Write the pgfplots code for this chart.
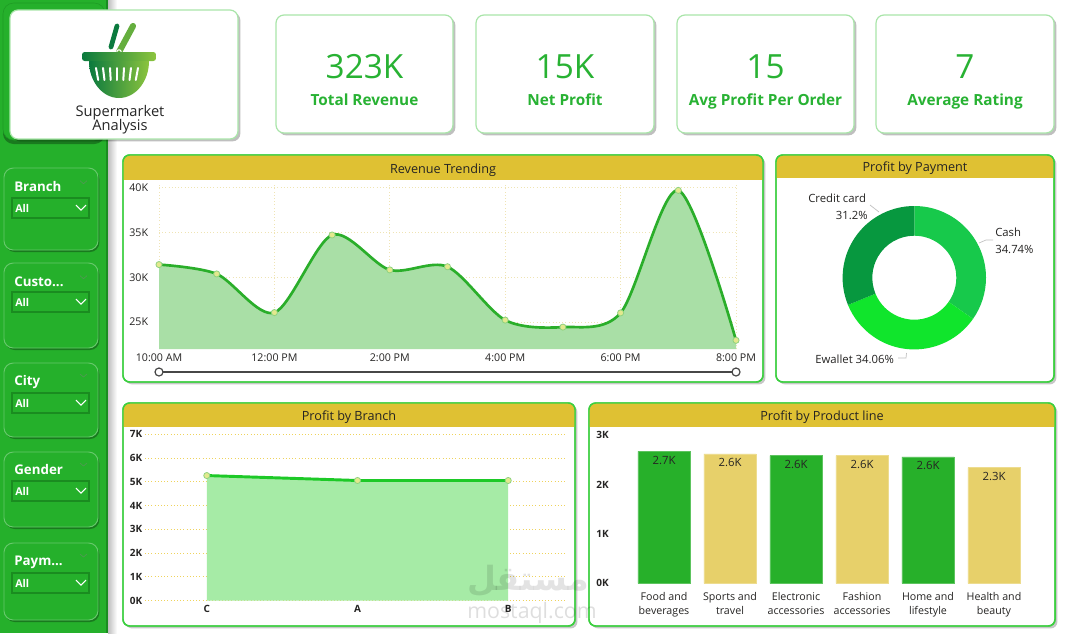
\documentclass[border=0pt]{standalone}
\usepackage{pgfplots}
\pgfplotsset{compat=1.18}
\usepackage{pgfplotstable}
\usepackage{fontspec}
\setmainfont{Open Sans}
\newfontfamily\arabicfont[Script=Arabic]{DejaVu Sans}
\TeXXeTstate=1
\usetikzlibrary{shadows}
\definecolor{side}{HTML}{25B02B}
\definecolor{sidedark}{HTML}{1A8C20}
\definecolor{kgreen}{HTML}{28B233}
\definecolor{hdr}{HTML}{DFC133}
\definecolor{pborder}{HTML}{3CCF40}
\definecolor{kborder}{HTML}{A9E5A9}
\definecolor{txt}{HTML}{252423}
\definecolor{revfill}{HTML}{A9DFA6}
\definecolor{revline}{HTML}{2AAE2A}
\definecolor{brfill}{HTML}{A6EBA6}
\definecolor{brline}{HTML}{1DC927}
\definecolor{mk}{HTML}{E3E98E}
\definecolor{mkedge}{HTML}{8FD27F}
\definecolor{revgrid}{HTML}{EFE4B4}
\definecolor{brgrid}{HTML}{EFD35C}
\definecolor{bgreen}{HTML}{27B02A}
\definecolor{byellow}{HTML}{E7D06A}
\definecolor{cash}{HTML}{17C94B}
\definecolor{ewal}{HTML}{10E52C}
\definecolor{ccard}{HTML}{07983F}
\definecolor{logoA}{HTML}{0B7A3E}
\definecolor{logoB}{HTML}{8CC43E}

\pgfplotstableread{
h rev
10 31421.48
11 30377.33
12 26065.88
13 34723.23
14 30828.39
15 31179.51
16 25226.32
17 24445.22
18 26030.34
19 39699.51
20 22969.53
}\revtable
\pgfplotstableread{
x profit
0 5265.18
1 5057.16
2 5057.03
}\branchtable
\def\pcash{34.74}
\def\pewal{34.06}
\def\pcard{31.20}

\tikzset{
  card/.style={rounded corners=6pt, fill=white, draw=kborder, line width=0.9pt,
    drop shadow={shadow xshift=1.8pt, shadow yshift=-1.8pt, opacity=0.25, fill=black}},
  panelbox/.style={rounded corners=5pt, fill=white, draw=pborder, line width=1.1pt,
    drop shadow={shadow xshift=1.8pt, shadow yshift=-1.8pt, opacity=0.22, fill=black}},
}
\newcommand\panel[5]{% x1 y1 x2 y2 yheader
  \path[panelbox] (#1,#2) rectangle (#3,#4);
  \begin{scope}
    \clip[rounded corners=5pt] (#1,#2) rectangle (#3,#4);
    \fill[hdr] (#1,#2) rectangle (#3,#5);
  \end{scope}
  \draw[pborder, line width=1.1pt, rounded corners=5pt] (#1,#2) rectangle (#3,#4);
}
\newcommand\filt[5]{% top bottom titlebaseline boxtop title
  \path[rounded corners=7pt, fill=side, draw=white!30!side, line width=0.7pt,
    drop shadow={shadow xshift=1pt, shadow yshift=-1.5pt, opacity=0.3, fill=black}] (4,#1) rectangle (98,#2);
  \node[anchor=base west, inner sep=0pt, text=white, font=\bfseries\fontsize{10}{12}\selectfont] at (14,#3) {#5};
  \draw[sidedark, line width=0.8pt] (12,#4) rectangle (89,{#4+20});
  \node[anchor=base west, inner sep=0pt, text=white, font=\bfseries\fontsize{8}{9}\selectfont] at (15,{#4+14}) {All};
  \draw[white, line width=0.8pt] (76,{#4+7}) -- (81,{#4+12}) -- (86,{#4+7});
  \draw[side!55!gray, line width=0.5pt] (80,{#3-11}) -- (83.5,{#3-8}) -- (87,{#3-11});
}

\begin{document}
\begin{tikzpicture}
\begin{scope}[x=0.75pt,y=-0.75pt]
\fill[white] (0,0) rectangle (1066,633);
% sidebar
\shade[left color=black!25, right color=white] (108,0) rectangle (117,633);
\fill[side] (0,0) rectangle (108,633);
\draw[sidedark, line width=1.4pt] (107.3,0) -- (107.3,633);
\path[fill=side, draw=sidedark!60!side, rounded corners=8pt,
  drop shadow={shadow xshift=0pt, shadow yshift=-3pt, opacity=0.3, fill=black}] (3,3) rectangle (105,140);

% logo card
\path[card] (10,10) rectangle (238,139);
\draw[logoA, line width=3.6pt, line cap=round] (111,47) -- (117,26);
\draw[logoB!70!logoA, line width=4.6pt, line cap=round] (119,52) -- (133,26);
\draw[white, line width=0.8pt] (119,52) circle[radius=2.2];
\shade[left color=logoA, right color=logoB, rounded corners=2pt] (82,52) rectangle (156,61);
\shade[left color=logoA, right color=logoB] (89,61) -- (149,61) arc[start angle=0, end angle=180, x radius=30, y radius=37] -- cycle;
\foreach \x/\d in {96/2.2,103/1.5,110/0.7,117/0,124/-0.7,131/-1.5,138/-2.2}
  \draw[white, line width=1.5pt, line cap=round] (\x,68) -- ({\x+\d},80);
\node[anchor=base, inner sep=0pt, text=black!85, font=\fontsize{11}{12}\selectfont] at (120,116) {Supermarket};
\node[anchor=base, inner sep=0pt, text=black!85, font=\fontsize{11}{12}\selectfont] at (120,130) {Analysis};

% KPI cards
\foreach \xa/\xb/\num/\lab in {276/453/323K/Total Revenue, 476/654/15K/Net Profit, 677/854/15/Avg Profit Per Order, 876/1054/7/Average Rating}{
  \path[card] (\xa,15) rectangle (\xb,133);
  \node[anchor=base, inner sep=0pt, text=kgreen, font=\fontsize{25}{28}\selectfont] at ({(\xa+\xb)/2},78.5) {\num};
  \node[anchor=base, inner sep=0pt, text=kgreen, font=\bfseries\fontsize{11.5}{13}\selectfont] at ({(\xa+\xb)/2},105) {\lab};
}

% filters
\filt{168}{250}{191.7}{198}{Branch}
\filt{263}{348}{286.7}{292}{Custo...}
\filt{363}{437}{385}{393}{City}
\filt{452}{527}{474}{481}{Gender}
\filt{543}{620}{565}{573}{Paym...}

% panels
\panel{123}{155}{763}{382}{179.5}
\node[anchor=base, inner sep=0pt, text=txt, font=\fontsize{9.5}{11}\selectfont] at (443,173.3) {Revenue Trending};
\panel{776}{155}{1054}{382}{178}
\node[anchor=base, inner sep=0pt, text=txt, font=\fontsize{9.5}{11}\selectfont] at (915,171.7) {Profit by Payment};
\panel{123}{403}{575}{626}{427}
\node[anchor=base, inner sep=0pt, text=txt, font=\fontsize{9.5}{11}\selectfont] at (349,420) {Profit by Branch};
\panel{589}{403}{1055}{626}{427}
\node[anchor=base, inner sep=0pt, text=txt, font=\fontsize{9.5}{11}\selectfont] at (822,420) {Profit by Product line};

% slider
\draw[black!72, line width=1.4pt] (159,372) -- (736,372);
\draw[black!72, fill=white, line width=0.9pt] (159,372) circle[radius=4];
\draw[black!72, fill=white, line width=0.9pt] (736,372) circle[radius=4];

% donut labels
\draw[black!25, line width=0.5pt] (870,205) -- (879,212);
\draw[black!25, line width=0.5pt] (979,243) -- (986,240) -- (993,240);
\draw[black!25, line width=0.5pt] (898,358) -- (906,358) -- (906.5,353);
\node[anchor=base west, inner sep=0pt, text=txt, font=\fontsize{8.5}{10}\selectfont] at (808,202.7) {Credit card};
\node[anchor=base east, inner sep=0pt, text=txt, font=\fontsize{8.5}{10}\selectfont] at (868,219.3) {31.2\%};
\node[anchor=base west, inner sep=0pt, text=txt, font=\fontsize{8.5}{10}\selectfont] at (995,236.7) {Cash};
\node[anchor=base west, inner sep=0pt, text=txt, font=\fontsize{8.5}{10}\selectfont] at (995,253.3) {34.74\%};
\node[anchor=base west, inner sep=0pt, text=txt, font=\fontsize{8.5}{10}\selectfont] at (815,363.3) {Ewallet 34.06\%};
\end{scope}

% Revenue Trending
\begin{axis}[at={(119.25pt,-138.75pt)}, anchor=north west, scale only axis,
  width=432.75pt, height=123pt,
  xmin=10, xmax=20, ymin=22000, ymax=40300,
  axis line style={draw=none}, major tick length=0pt,
  xtick={10,12,14,16,18,20},
  xticklabels={10:00 AM,12:00 PM,2:00 PM,4:00 PM,6:00 PM,8:00 PM},
  ytick={25000,30000,35000,40000}, yticklabels={25K,30K,35K,40K},
  xmajorgrids, ymajorgrids,
  major grid style={draw=revgrid, dotted, line width=0.7pt},
  tick label style={font=\fontsize{8}{9}\selectfont, text=txt},
  yticklabel style={anchor=west, xshift=-25.8pt},
  scaled ticks=false,
]
\addplot[draw=none, fill=revfill, smooth, tension=0.5] table[x=h, y=rev]{\revtable} \closedcycle;
\addplot[revline, line width=2pt, smooth, tension=0.5, mark=*, mark size=2.3pt,
  mark options={fill=mk, draw=mkedge, line width=0.6pt, solid}] table[x=h, y=rev]{\revtable};
\end{axis}

% Profit by Payment (donut)
\pgfmathsetmacro\aA{90}
\pgfmathsetmacro\aB{90-3.6*\pcash}
\pgfmathsetmacro\aC{\aB-3.6*\pewal}
\pgfmathsetmacro\aD{\aC-3.6*\pcard}
\pgfmathsetmacro\ri{42/71.7}
\begin{axis}[at={(685.725pt,-208.275pt)}, anchor=center, scale only axis,
  width=107.55pt, height=107.55pt, xmin=-1, xmax=1, ymin=-1, ymax=1,
  hide axis, clip=false]
\fill[cash] (axis cs:{cos(\aA)},{sin(\aA)}) arc[start angle=\aA, end angle=\aB, radius=1]
  -- (axis cs:{\ri*cos(\aB)},{\ri*sin(\aB)}) arc[start angle=\aB, end angle=\aA, radius=\ri] -- cycle;
\fill[ewal] (axis cs:{cos(\aB)},{sin(\aB)}) arc[start angle=\aB, end angle=\aC, radius=1]
  -- (axis cs:{\ri*cos(\aC)},{\ri*sin(\aC)}) arc[start angle=\aC, end angle=\aB, radius=\ri] -- cycle;
\fill[ccard] (axis cs:{cos(\aC)},{sin(\aC)}) arc[start angle=\aC, end angle=\aD, radius=1]
  -- (axis cs:{\ri*cos(\aD)},{\ri*sin(\aD)}) arc[start angle=\aD, end angle=\aC, radius=\ri] -- cycle;
\end{axis}

% Profit by Branch
\begin{axis}[at={(108.75pt,-325.725pt)}, anchor=north west, scale only axis,
  width=316.5pt, height=124.8pt,
  xmin=-0.41, xmax=2.39, ymin=0, ymax=7000,
  axis line style={draw=none}, major tick length=0pt,
  xtick={0,1,2}, xticklabels={C,A,B},
  ytick={0,1000,2000,3000,4000,5000,6000,7000}, yticklabels={0K,1K,2K,3K,4K,5K,6K,7K},
  ymajorgrids, major grid style={draw=brgrid, dotted, line width=0.8pt},
  tick label style={font=\bfseries\fontsize{7.5}{9}\selectfont, text=txt},
  yticklabel style={xshift=1.5pt}, scaled ticks=false,
]
\addplot[draw=none, fill=brfill] table[x=x, y=profit]{\branchtable} \closedcycle;
\addplot[brline, line width=2.2pt, mark=*, mark size=2.3pt,
  mark options={fill=mk, draw=mkedge, line width=0.6pt, solid}] table[x=x, y=profit]{\branchtable};
\end{axis}

% Profit by Product line
\begin{axis}[at={(473.25pt,-326.475pt)}, anchor=north west, scale only axis,
  width=297pt, height=111pt,
  xmin=-0.5, xmax=5.5, ymin=0, ymax=3000, enlargelimits=false,
  ybar, bar width=0.79, bar shift=0pt,
  axis line style={draw=none}, major tick length=0pt,
  xtick={0,1,2,3,4,5},
  xticklabels={{Food and\\beverages},{Sports and\\travel},{Electronic\\accessories},{Fashion\\accessories},{Home and\\lifestyle},{Health and\\beauty}},
  tick label style={text=txt},
  xticklabel style={align=center, font=\fontsize{8}{10.5}\selectfont, yshift=-3pt},
  ytick={0,1000,2000,3000}, yticklabels={0K,1K,2K,3K},
  yticklabel style={anchor=west, xshift=-29.5pt, font=\bfseries\fontsize{7.5}{9}\selectfont},
  nodes near coords, point meta=explicit symbolic,
  every node near coord/.append style={yshift=-13.5pt, font=\fontsize{8.5}{10}\selectfont, text=txt},
  scaled ticks=false,
]
\addplot[fill=bgreen, draw=bgreen!75!white] coordinates {(0,2673.56)[2.7K] (2,2587.50)[2.6K] (4,2564.85)[2.6K]};
\addplot[fill=byellow, draw=byellow!75!white] coordinates {(1,2624.90)[2.6K] (3,2585.99)[2.6K] (5,2342.56)[2.3K]};
\end{axis}

% watermark (semi-transparent overlay)
\node[anchor=base, inner sep=0pt, text=black, text opacity=0.13, font=\fontsize{16}{18}\selectfont] at (399pt,-463.5pt) {mostaql.com};
\node[anchor=base, inner sep=0pt, text=black, text opacity=0.11, font=\arabicfont\bfseries\fontsize{25}{28}\selectfont] at (396pt,-442.5pt) {\beginR مستقل\endR};

\pgfresetboundingbox
\path[use as bounding box] (0pt,0pt) rectangle (799.5pt,-474.75pt);
\end{tikzpicture}
\end{document}
